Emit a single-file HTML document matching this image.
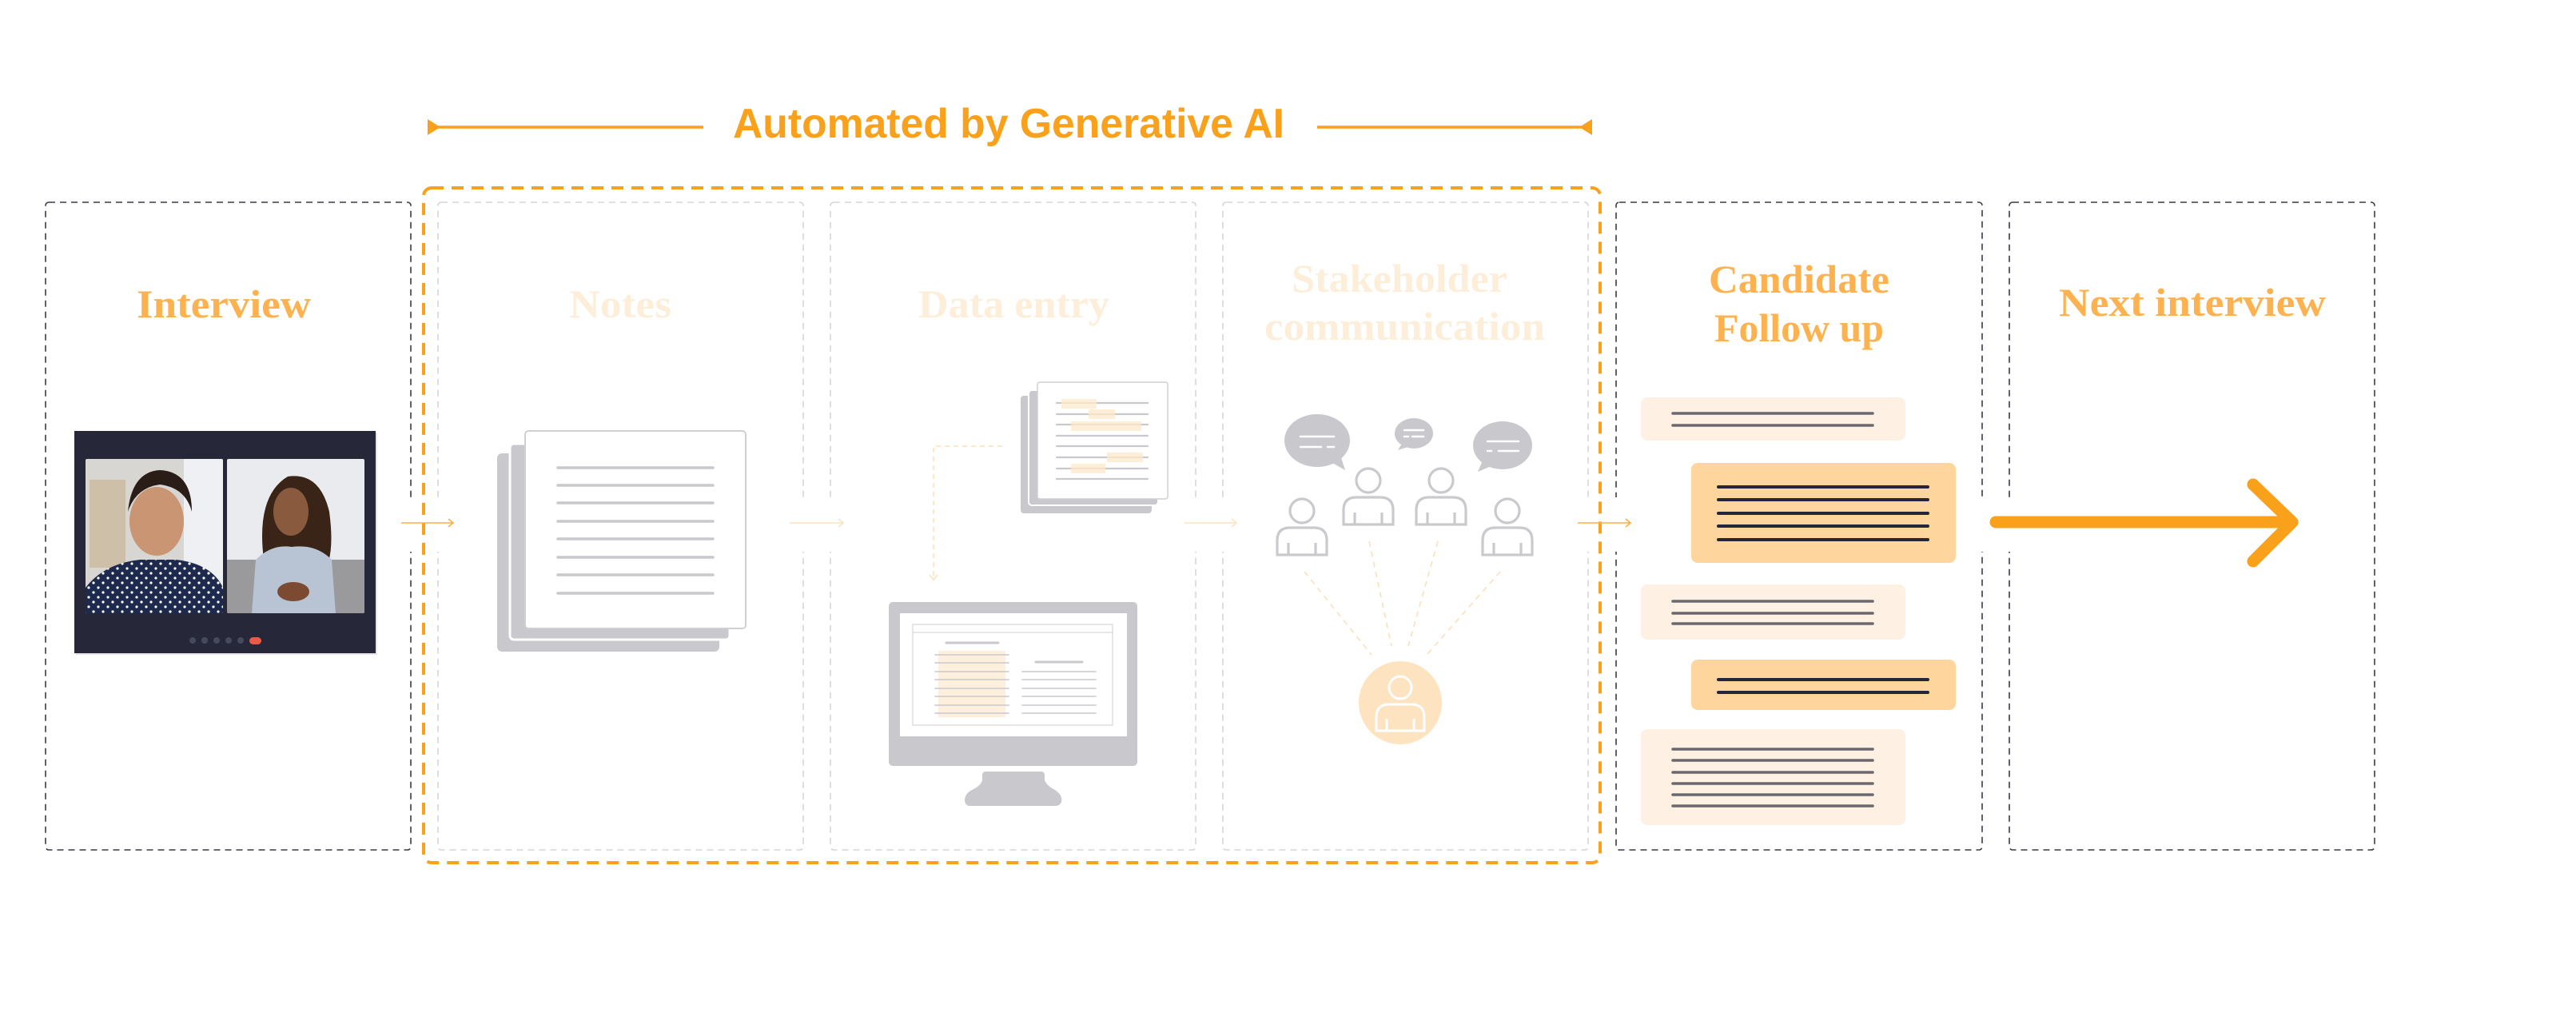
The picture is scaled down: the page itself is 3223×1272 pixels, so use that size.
<!DOCTYPE html>
<html><head><meta charset="utf-8"><style>html,body{margin:0;padding:0;background:#fff}svg{display:block}</style></head>
<body>
<svg width="3223" height="1272" viewBox="0 0 3223 1272" xmlns="http://www.w3.org/2000/svg">
<defs>
<pattern id="dots" width="12" height="12" patternUnits="userSpaceOnUse"><rect width="12" height="12" fill="#1d2a4d"/><circle cx="3" cy="3" r="1.6" fill="#fff"/><circle cx="9" cy="9" r="1.6" fill="#fff"/></pattern>
</defs>
<rect width="3223" height="1272" fill="#fff"/>

<!-- top banner -->
<polygon points="535,149 551,159 535,169" fill="#f9a11b"/>
<line x1="540" y1="159" x2="880" y2="159" stroke="#f9a11b" stroke-width="3.5"/>
<line x1="1648" y1="159" x2="1980" y2="159" stroke="#f9a11b" stroke-width="3.5"/>
<polygon points="1992,149 1976,159 1992,169" fill="#f9a11b"/>
<text x="917" y="172" font-family="Liberation Sans, sans-serif" font-weight="bold" font-size="52" fill="#f9a11b" textLength="690" lengthAdjust="spacingAndGlyphs">Automated by Generative AI</text>

<!-- outer gray boxes -->
<g fill="none" stroke="#3a3a48" stroke-width="1.6" stroke-dasharray="8 6">
<rect x="57" y="253" width="457" height="810" rx="4"/>
<rect x="2022" y="253" width="458" height="810" rx="4"/>
<rect x="2514" y="253" width="457" height="810" rx="4"/>
</g>
<g fill="none" stroke="#d5d5d8" stroke-width="1.6" stroke-dasharray="8 6">
<rect x="548" y="253" width="457" height="810" rx="4"/>
<rect x="1039" y="253" width="457" height="810" rx="4"/>
<rect x="1530" y="253" width="457" height="810" rx="4"/>
</g>
<!-- gaps in side borders -->
<g fill="#fff">
<rect x="508" y="622" width="12" height="68"/>
<rect x="542" y="622" width="12" height="68"/>
<rect x="999" y="622" width="12" height="68"/>
<rect x="1033" y="622" width="12" height="68"/>
<rect x="1490" y="622" width="12" height="68"/>
<rect x="1524" y="622" width="12" height="68"/>
<rect x="1981" y="622" width="12" height="68"/>
<rect x="2016" y="622" width="12" height="68"/>
<rect x="2474" y="622" width="12" height="68"/>
<rect x="2508" y="622" width="12" height="68"/>
</g>
<!-- orange box -->
<rect x="530" y="235" width="1472" height="844" rx="10" fill="none" stroke="#f9a11b" stroke-width="4" stroke-dasharray="15 10"/>

<!-- small arrows -->
<g stroke-width="1.6" fill="none">
<g stroke="#f9b04a"><line x1="502" y1="654" x2="567" y2="654"/><polyline points="561,649 567,654 561,659"/></g>
<g stroke="#fde3c0"><line x1="988" y1="654" x2="1055" y2="654"/><polyline points="1049,649 1055,654 1049,659"/></g>
<g stroke="#fde3c0"><line x1="1482" y1="654" x2="1547" y2="654"/><polyline points="1541,649 1547,654 1541,659"/></g>
<g stroke="#f9b04a"><line x1="1974" y1="654" x2="2040" y2="654"/><polyline points="2034,649 2040,654 2034,659"/></g>
</g>

<!-- titles -->
<g font-family="Liberation Serif, serif" font-weight="bold" font-size="50">
<text x="171" y="397" fill="#fdb24f" textLength="218" lengthAdjust="spacingAndGlyphs">Interview</text>
<text x="712" y="397" fill="#fdeed9" textLength="128" lengthAdjust="spacingAndGlyphs">Notes</text>
<text x="1149" y="397" fill="#fdeed9" textLength="239" lengthAdjust="spacingAndGlyphs">Data entry</text>
<text x="1616" y="365" fill="#fdeed9" textLength="270" lengthAdjust="spacingAndGlyphs">Stakeholder</text>
<text x="1582" y="425" fill="#fdeed9" textLength="351" lengthAdjust="spacingAndGlyphs">communication</text>
<text x="2138" y="366" fill="#fdb24f" textLength="226" lengthAdjust="spacingAndGlyphs">Candidate</text>
<text x="2145" y="427" fill="#fdb24f" textLength="212" lengthAdjust="spacingAndGlyphs">Follow up</text>
<text x="2576" y="395" fill="#fdb24f" textLength="334" lengthAdjust="spacingAndGlyphs">Next interview</text>
</g>

<!-- video call -->
<rect x="95" y="541" width="377" height="278" fill="#e6e6e8"/>
<rect x="93" y="539" width="377" height="278" fill="#262839"/>
<clipPath id="p1"><rect x="107" y="574" width="172" height="193" rx="2"/></clipPath>
<clipPath id="p2"><rect x="284" y="574" width="172" height="193" rx="2"/></clipPath>
<g clip-path="url(#p1)">
<rect x="107" y="574" width="172" height="193" fill="#d8d6d2"/>
<rect x="230" y="574" width="49" height="193" fill="#eef0f3"/>
<rect x="112" y="600" width="45" height="110" fill="#cdbfa8"/>
<ellipse cx="196" cy="652" rx="34" ry="43" fill="#c99572"/>
<path d="M160 640 Q165 590 200 588 Q240 590 240 640 Q232 610 200 606 Q170 610 160 640Z" fill="#2a1d18"/>
<path d="M107 767 L107 735 Q130 705 175 700 L220 700 Q265 705 279 735 L279 767Z" fill="url(#dots)"/>
</g>
<g clip-path="url(#p2)">
<rect x="284" y="574" width="172" height="193" fill="#e9ebee"/>
<rect x="284" y="700" width="172" height="67" fill="#9a9a9c"/>
<path d="M330 700 Q320 620 360 596 Q400 590 412 640 Q420 700 402 720 L330 720Z" fill="#3a2418"/>
<ellipse cx="364" cy="640" rx="22" ry="30" fill="#8a5a3e"/>
<path d="M315 767 L320 700 Q340 680 365 684 Q395 680 415 700 L420 767Z" fill="#b8c3d3"/>
<ellipse cx="367" cy="740" rx="20" ry="12" fill="#7b4a30"/>
</g>
<g fill="#474a5c">
<circle cx="241" cy="801" r="4"/><circle cx="256" cy="801" r="4"/><circle cx="271" cy="801" r="4"/><circle cx="286" cy="801" r="4"/><circle cx="301" cy="801" r="4"/>
</g>
<rect x="312" y="797" width="15" height="9" rx="4.5" fill="#ea5a47"/>

<!-- notes docs -->
<rect x="622" y="567" width="278" height="248" rx="6" fill="#c9c9cd"/>
<rect x="638" y="555" width="275" height="245" rx="5" fill="#c9c9cd" stroke="#fff" stroke-width="3"/>
<rect x="657" y="539" width="276" height="247" rx="4" fill="#fff" stroke="#d0d0d4" stroke-width="2"/>
<g stroke="#c9c9cd" stroke-width="3.5" stroke-linecap="round">
<line x1="698" y1="585" x2="892" y2="585"/><line x1="698" y1="607" x2="892" y2="607"/>
<line x1="698" y1="629" x2="892" y2="629"/><line x1="698" y1="652" x2="892" y2="652"/>
<line x1="698" y1="674" x2="892" y2="674"/><line x1="698" y1="697" x2="892" y2="697"/>
<line x1="698" y1="719" x2="892" y2="719"/><line x1="698" y1="742" x2="892" y2="742"/>
</g>

<!-- data entry doc -->
<rect x="1277" y="495" width="164" height="147" rx="4" fill="#c9c9cd"/>
<rect x="1287" y="488" width="162" height="144" rx="4" fill="#c9c9cd" stroke="#fff" stroke-width="2"/>
<rect x="1298" y="478" width="163" height="146" rx="3" fill="#fff" stroke="#d0d0d4" stroke-width="1.5"/>
<g stroke="#c9c9cd" stroke-width="2.2" stroke-linecap="round">
<line x1="1322" y1="504" x2="1436" y2="504"/><line x1="1322" y1="518" x2="1436" y2="518"/>
<line x1="1322" y1="531" x2="1436" y2="531"/><line x1="1322" y1="545" x2="1436" y2="545"/>
<line x1="1322" y1="558" x2="1436" y2="558"/><line x1="1322" y1="572" x2="1436" y2="572"/>
<line x1="1322" y1="586" x2="1436" y2="586"/><line x1="1322" y1="599" x2="1436" y2="599"/>
</g>
<g fill="#fde9cc" opacity="0.75">
<rect x="1328" y="499" width="44" height="12"/><rect x="1362" y="512" width="33" height="12"/>
<rect x="1340" y="527" width="88" height="12"/><rect x="1385" y="566" width="45" height="12"/>
<rect x="1340" y="580" width="43" height="12"/>
</g>
<polyline points="1254,558 1168,558 1168,724" fill="none" stroke="#fde0b8" stroke-width="1.6" stroke-dasharray="6 5"/>
<polyline points="1163,719 1168,725 1173,719" fill="none" stroke="#fde0b8" stroke-width="1.6"/>

<!-- monitor -->
<rect x="1112" y="753" width="311" height="205" rx="5" fill="#c9c9cd"/>
<rect x="1126" y="767" width="284" height="154" fill="#fff"/>
<rect x="1142" y="781" width="250" height="126" fill="#fff" stroke="#cfcfd3" stroke-width="1"/>
<line x1="1142" y1="791" x2="1392" y2="791" stroke="#cfcfd3" stroke-width="1"/>
<rect x="1174" y="814" width="84" height="83" fill="#fdefdc"/>
<g stroke="#c9c9cd" stroke-width="1.6" stroke-linecap="round">
<line x1="1184" y1="804" x2="1249" y2="804" stroke-width="3"/>
<line x1="1296" y1="828" x2="1354" y2="828" stroke-width="3"/>
<line x1="1170" y1="819" x2="1262" y2="819"/><line x1="1170" y1="829" x2="1262" y2="829"/>
<line x1="1170" y1="840" x2="1262" y2="840"/><line x1="1170" y1="850" x2="1262" y2="850"/>
<line x1="1170" y1="861" x2="1262" y2="861"/><line x1="1170" y1="871" x2="1262" y2="871"/>
<line x1="1170" y1="882" x2="1262" y2="882"/><line x1="1170" y1="892" x2="1262" y2="892"/>
<line x1="1279" y1="840" x2="1371" y2="840"/><line x1="1279" y1="850" x2="1371" y2="850"/>
<line x1="1279" y1="861" x2="1371" y2="861"/><line x1="1279" y1="871" x2="1371" y2="871"/>
<line x1="1279" y1="882" x2="1371" y2="882"/><line x1="1279" y1="892" x2="1371" y2="892"/>
</g>
<path d="M1233 965 L1303 965 Q1307 965 1307 970 L1307 976 Q1310 983 1320 988 Q1330 995 1328 1003 Q1326 1008 1320 1008 L1214 1008 Q1207 1008 1207 1000 Q1208 992 1216 988 Q1227 983 1229 976 L1229 970 Q1229 965 1233 965Z" fill="#c9c9cd"/>

<!-- stakeholders -->
<g fill="#c9c9cd">
<ellipse cx="1648" cy="551" rx="41" ry="33"/><polygon points="1660,575 1683,588 1676,566"/>
<ellipse cx="1769" cy="542" rx="24" ry="19"/><polygon points="1756,552 1749,563 1765,558"/>
<ellipse cx="1880" cy="557" rx="37" ry="30"/><polygon points="1856,574 1849,590 1868,582"/>
</g>
<g stroke="#fff" stroke-width="2.5" stroke-linecap="round">
<line x1="1627" y1="546" x2="1669" y2="546"/><line x1="1627" y1="559" x2="1653" y2="559"/><line x1="1661" y1="559" x2="1669" y2="559"/>
<line x1="1757" y1="538" x2="1781" y2="538"/><line x1="1757" y1="546" x2="1762" y2="546"/><line x1="1767" y1="546" x2="1781" y2="546"/>
<line x1="1861" y1="552" x2="1900" y2="552"/><line x1="1861" y1="564" x2="1866" y2="564"/><line x1="1875" y1="564" x2="1900" y2="564"/>
</g>
<g fill="none" stroke="#cacace" stroke-width="3.2">
<g id="person"><circle cx="1629" cy="639" r="15"/><path d="M1598 694 L1598 676 Q1598 660 1614 660 L1644 660 Q1660 660 1660 676 L1660 694Z"/><line x1="1612" y1="679" x2="1612" y2="694"/><line x1="1646" y1="679" x2="1646" y2="694"/></g>
<use href="#person" x="83" y="-38"/>
<use href="#person" x="174" y="-38"/>
<use href="#person" x="257" y="0"/>
</g>
<g stroke="#fde0b8" stroke-width="1.6" stroke-dasharray="7 6">
<line x1="1632" y1="715" x2="1716" y2="819"/>
<line x1="1713" y1="677" x2="1741" y2="808"/>
<line x1="1799" y1="677" x2="1762" y2="808"/>
<line x1="1877" y1="715" x2="1785" y2="819"/>
</g>
<circle cx="1752" cy="879" r="52" fill="#fde3bf"/>
<g fill="none" stroke="#fff" stroke-width="3">
<circle cx="1752" cy="860" r="14"/>
<path d="M1722 914 L1722 897 Q1722 881 1738 881 L1766 881 Q1782 881 1782 897 L1782 914Z"/>
<line x1="1735" y1="899" x2="1735" y2="914"/><line x1="1769" y1="899" x2="1769" y2="914"/>
</g>

<!-- candidate cards -->
<rect x="2053" y="497" width="331" height="54" rx="8" fill="#fef0e2"/>
<rect x="2116" y="579" width="331" height="125" rx="8" fill="#fdd59d"/>
<rect x="2053" y="731" width="331" height="69" rx="8" fill="#fef0e2"/>
<rect x="2116" y="825" width="331" height="63" rx="8" fill="#fdd59d"/>
<rect x="2053" y="912" width="331" height="120" rx="8" fill="#fef0e2"/>
<g stroke="#6a686e" stroke-width="3.5" stroke-linecap="round">
<line x1="2093" y1="517" x2="2343" y2="517"/><line x1="2093" y1="532" x2="2343" y2="532"/>
<line x1="2093" y1="752" x2="2343" y2="752"/><line x1="2093" y1="767" x2="2343" y2="767"/><line x1="2093" y1="780" x2="2343" y2="780"/>
<line x1="2093" y1="937" x2="2343" y2="937"/><line x1="2093" y1="951" x2="2343" y2="951"/><line x1="2093" y1="966" x2="2343" y2="966"/>
<line x1="2093" y1="980" x2="2343" y2="980"/><line x1="2093" y1="994" x2="2343" y2="994"/><line x1="2093" y1="1008" x2="2343" y2="1008"/>
</g>
<g stroke="#25253a" stroke-width="4" stroke-linecap="round">
<line x1="2150" y1="609" x2="2412" y2="609"/><line x1="2150" y1="625" x2="2412" y2="625"/>
<line x1="2150" y1="642" x2="2412" y2="642"/><line x1="2150" y1="658" x2="2412" y2="658"/>
<line x1="2150" y1="675" x2="2412" y2="675"/>
<line x1="2150" y1="850" x2="2412" y2="850"/><line x1="2150" y1="866" x2="2412" y2="866"/>
</g>

<!-- big arrow -->
<g stroke="#f9a11b" stroke-width="15" stroke-linecap="round" stroke-linejoin="round" fill="none">
<line x1="2497" y1="653" x2="2866" y2="653"/>
<polyline points="2819,606 2868,653 2819,702"/>
</g>
</svg>
</body></html>
